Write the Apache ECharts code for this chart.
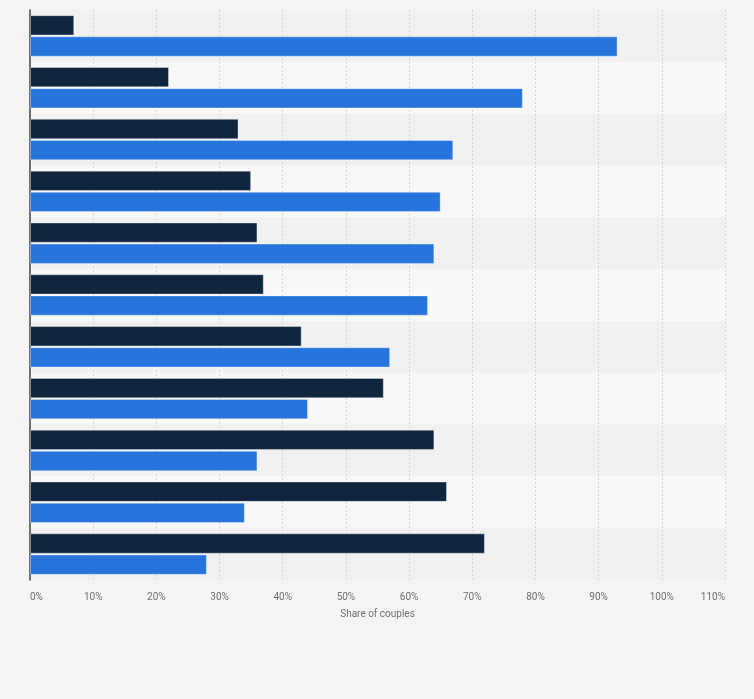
<!DOCTYPE html>
<html lang="en">
<head>
  <meta charset="UTF-8">
  <title>Share of couples</title>
  <script src="https://cdn.jsdelivr.net/npm/echarts@6/dist/echarts.min.js"></script>
  <style>
    html, body { margin: 0; padding: 0; background: #f4f4f4; }
    #chart { width: 754px; height: 699px; }
  </style>
</head>
<body>
  <div id="chart"></div>
<script>
  // category labels are not shown in the picture
  const categories = ["Group 1", "Group 2", "Group 3", "Group 4", "Group 5", "Group 6",
    "Group 7", "Group 8", "Group 9", "Group 10", "Group 11"];
  const darkValues = [7, 22, 33, 35, 36, 37, 43, 56, 64, 66, 72];
  const blueValues = [93, 78, 67, 65, 64, 63, 57, 44, 36, 34, 28];
  const axisMax = 110;
  const axisStep = 10;

  const chart = echarts.init(document.getElementById("chart"));
  const option = {
    backgroundColor: "#f4f4f4",
    animation: false,
    grid: { left: 30, right: 29, top: 10, bottom: 119 },
    xAxis: {
      type: "value",
      min: 0,
      max: axisMax,
      interval: axisStep,
      name: "Share of couples",
      nameLocation: "middle",
      nameGap: 29,
      nameTextStyle: { color: "#707070", fontSize: 10, fontFamily: "Roboto" },
      axisLine: { show: false },
      axisTick: { show: false },
      axisLabel: {
        formatter: "{value}%", color: "#707070", fontSize: 10, margin: 12, fontFamily: "Roboto",
        alignMinLabel: "left", alignMaxLabel: "right",
      },
      splitLine: { show: true, lineStyle: { color: "#d6d6d6", type: [2, 2], width: 1 } },
    },
    yAxis: {
      type: "category",
      data: categories,
      inverse: true,
      axisLine: { show: true, lineStyle: { color: "#444", width: 1.5 } },
      axisTick: { show: false },
      axisLabel: { show: false },
      splitArea: { show: true, areaStyle: { color: ["#f1f1f1", "#f8f8f8"] } },
    },
    series: [
      {
        name: "Dark",
        type: "bar",
        data: darkValues,
        barCategoryGap: "20%",
        barGap: "4%",
        itemStyle: { color: "#10263e", borderColor: "rgba(255,255,255,0.35)", borderWidth: 1 },
      },
      {
        name: "Blue",
        type: "bar",
        data: blueValues,
        itemStyle: { color: "#2775dc", borderColor: "rgba(255,255,255,0.35)", borderWidth: 1 },
      },
    ],
  };
  chart.setOption(option);
</script>
</body>
</html>
